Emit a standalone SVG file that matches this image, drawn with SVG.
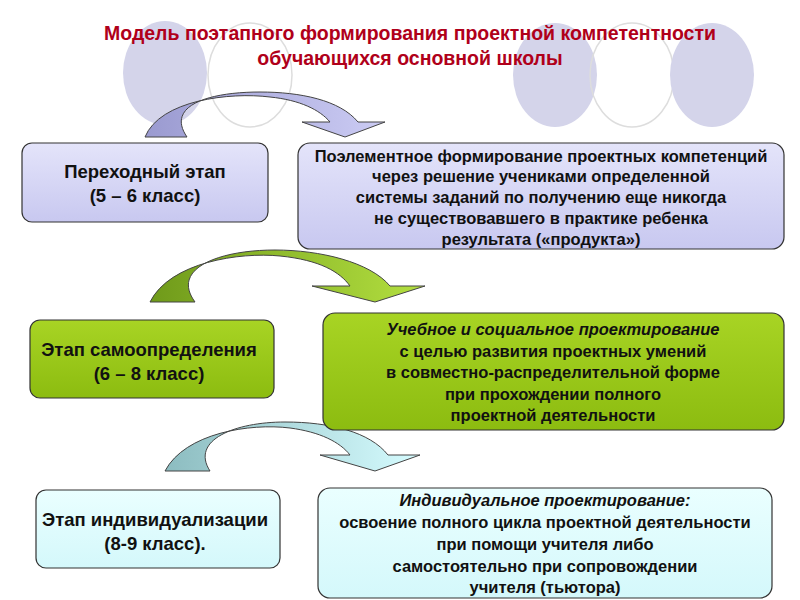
<svg xmlns="http://www.w3.org/2000/svg" width="800" height="600" viewBox="0 0 800 600">
<defs>
<linearGradient id="g1" x1="0" y1="0" x2="0" y2="1"><stop offset="0" stop-color="#e4e4fa"/><stop offset="1" stop-color="#c8c8f0"/></linearGradient>
<linearGradient id="g2" x1="0" y1="0" x2="0" y2="1"><stop offset="0" stop-color="#a8d424"/><stop offset="1" stop-color="#8cbc10"/></linearGradient>
<linearGradient id="g3" x1="0" y1="0" x2="0" y2="1"><stop offset="0" stop-color="#eaffff"/><stop offset="1" stop-color="#d4f8fb"/></linearGradient>
<linearGradient id="a1" x1="0" y1="0" x2="1" y2="0"><stop offset="0" stop-color="#9a9ad0"/><stop offset="1" stop-color="#ccccf4"/></linearGradient>
<linearGradient id="a2" x1="0" y1="0" x2="1" y2="0"><stop offset="0" stop-color="#6f9a1a"/><stop offset="1" stop-color="#b4e040"/></linearGradient>
<linearGradient id="a3" x1="0" y1="0" x2="1" y2="0"><stop offset="0" stop-color="#8cbcc0"/><stop offset="1" stop-color="#d6fcff"/></linearGradient>
<style>
.bx{stroke:#333;stroke-width:1.2}
.t{font-family:"Liberation Sans",Arial,sans-serif;font-weight:bold;fill:#111;text-anchor:middle}
.n{font-size:18.5px}
.d{font-size:16.5px}
.arr{stroke:#444;stroke-width:1}
</style>
</defs>
<rect width="800" height="600" fill="#fff"/>
<g id="bg">
<ellipse cx="165" cy="73" rx="42" ry="52" fill="#d4d4ea"/>
<ellipse cx="250" cy="75" rx="42" ry="52" fill="none" stroke="#ddd" stroke-width="1.5"/>
<ellipse cx="555" cy="75" rx="42" ry="52" fill="#d4d4ea"/>
<ellipse cx="632" cy="75" rx="42" ry="52" fill="none" stroke="#ddd" stroke-width="1.5"/>
<ellipse cx="712" cy="75" rx="42" ry="52" fill="#d4d4ea"/>
</g>
<g id="title" font-family="'Liberation Sans',Arial,sans-serif" font-weight="bold" font-size="19.5" fill="#b0001a" text-anchor="middle">
<text x="410" y="40">Модель поэтапного формирования  проектной компетентности</text>
<text x="410" y="65">обучающихся основной школы</text>
</g>
<g id="connectors">
<path class="arr" fill="url(#a1)" d="M145,137 C160,100 230,92 270,97 C300,100 320,110 330,122 L302,122 L345,137 L385,122 L358,122 C340,100 300,92 260,92 C210,92 165,105 187,137 Z"/>
<path class="arr" fill="url(#a2)" d="M150,302 C170,262 240,252 280,256 C320,260 340,272 350,286 L312,286 L375,302 L425,286 L390,286 C370,262 320,250 275,250 C220,250 170,268 195,302 Z"/>
<path class="arr" fill="url(#a3)" d="M165,471 C185,433 250,423 290,428 C320,432 340,442 350,455 L320,455 L375,471 L420,455 L388,455 C370,432 330,422 285,422 C235,422 190,440 210,471 Z"/>
</g>
<g id="n1"><rect class="bx" x="22" y="143" width="246" height="79" rx="10" fill="url(#g1)"/>
<text class="t n" x="145" y="178">Переходный этап</text><text class="t n" x="145" y="202">(5 – 6 класс)</text></g>
<g id="n2"><rect class="bx" x="298" y="143" width="486" height="106" rx="12" fill="url(#g1)"/>
<text class="t d" x="541" y="162">Поэлементное формирование проектных компетенций</text>
<text class="t d" x="541" y="182">через решение учениками определенной</text>
<text class="t d" x="541" y="203">системы заданий по получению еще никогда</text>
<text class="t d" x="541" y="224">не существовавшего в практике ребенка</text>
<text class="t d" x="541" y="245">результата («продукта»)</text></g>
<g id="n3"><rect class="bx" x="30" y="320" width="244" height="78" rx="10" fill="url(#g2)"/>
<text class="t n" x="149" y="356">Этап самоопределения</text><text class="t n" x="149" y="380">(6 – 8 класс)</text></g>
<g id="n4"><rect class="bx" x="323" y="313" width="461" height="117" rx="12" fill="url(#g2)"/>
<text class="t d" font-style="italic" x="553" y="335">Учебное и социальное проектирование</text>
<text class="t d" x="553" y="357">с целью развития проектных умений</text>
<text class="t d" x="553" y="378">в совместно-распределительной форме</text>
<text class="t d" x="553" y="400">при прохождении полного</text>
<text class="t d" x="553" y="421">проектной деятельности</text></g>
<g id="n5"><rect class="bx" x="36" y="490" width="244" height="78" rx="10" fill="url(#g3)"/>
<text class="t n" x="155" y="526">Этап индивидуализации</text><text class="t n" x="155" y="550">(8-9 класс).</text></g>
<g id="n6"><rect class="bx" x="318" y="488" width="454" height="110" rx="12" fill="url(#g3)"/>
<text class="t d" font-style="italic" x="545" y="506">Индивидуальное проектирование:</text>
<text class="t d" x="545" y="528">освоение полного цикла проектной деятельности</text>
<text class="t d" x="545" y="550">при помощи учителя либо</text>
<text class="t d" x="545" y="572">самостоятельно при сопровождении</text>
<text class="t d" x="545" y="593">учителя (тьютора)</text></g>
</svg>
